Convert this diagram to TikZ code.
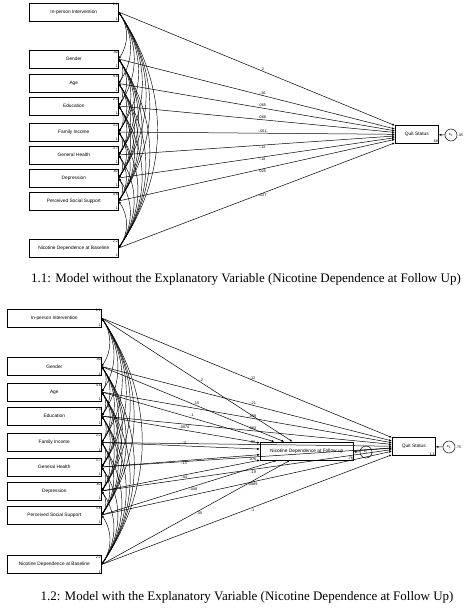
\documentclass[tikz,border=0pt]{standalone}
\usepackage{fontspec}
\newfontfamily\semfont{Liberation Sans}
\newfontfamily\capfont{Liberation Serif}
\usetikzlibrary{arrows.meta,positioning,calc}

\newcommand{\topboxw}{89pt}
\newcommand{\botboxw}{94pt}
\newcommand{\boxh}{18pt}
\newcommand{\toplx}{29}
\newcommand{\botlx}{7}
\newcommand{\labpos}{.52}

\begin{document}
\begin{tikzpicture}[x=1pt,y=-1pt]
\tikzstyle{var}=[draw,line width=.6pt,minimum height=\boxh,inner sep=0pt,anchor=west,font=\semfont\fontsize{4.8}{5}\selectfont]
\tikzstyle{corner}=[inner sep=.6pt,font=\semfont\fontsize{3.6}{3.8}\selectfont]
\tikzstyle{effect}=[line width=.5pt,-{Latex[length=2.8pt,width=2.2pt]}]
\tikzstyle{cov}=[line width=.45pt,{Latex[length=2.6pt,width=2pt]}-{Latex[length=2.6pt,width=2pt]}]
\tikzstyle{coef}=[inner sep=.8pt,font=\semfont\fontsize{3.8}{4}\selectfont]
\tikzstyle{err}=[draw,circle,line width=.5pt,minimum size=12pt,inner sep=0pt,font=\semfont\fontsize{4}{4}\selectfont]
\tikzstyle{captext}=[inner sep=0pt,font=\capfont\fontsize{13}{15}\selectfont]

\useasboundingbox (0,0) rectangle (474,609);

% 1.1: without nicotine dependence at follow up
\node (A1) [var,minimum width=\topboxw] at (\toplx,12) {In-person Intervention};
\node (A2) [var,minimum width=\topboxw] at (\toplx,59) {Gender};
\node (A3) [var,minimum width=\topboxw] at (\toplx,83.5) {Age};
\node (A4) [var,minimum width=\topboxw] at (\toplx,106) {Education};
\node (A5) [var,minimum width=\topboxw] at (\toplx,132) {Family Income};
\node (A6) [var,minimum width=\topboxw] at (\toplx,155) {General Health};
\node (A7) [var,minimum width=\topboxw] at (\toplx,178) {Depression};
\node (A8) [var,minimum width=\topboxw] at (\toplx,201) {Perceived Social Support};
\node (A9) [var,minimum width=\topboxw] at (\toplx,248) {Nicotine Dependence at Baseline};

\foreach \n/\m in {A1/1.1,A2/.90,A3/4.6,A4/2.3,A5/3.2,A6/3.7,A7/.82,A8/3.6,A9/2.2}{
  \node (\n m) [corner,anchor=north east] at (\n.north east) {\m};
  \node (\n v) [corner,anchor=south east] at (\n.south east) {1};
}

\node (AQ) [var,minimum width=43pt] at (395,134.5) {Quit Status};
\node (AQc) [corner,anchor=south east] at (AQ.south east) {.68};
\node (AE) [err] at (451,135) {ε\textsubscript{1}};
\node (AEv) [corner,anchor=west] at (AE.east) {.85};
\draw[effect] (AE) -- (AQ);

\draw[effect] (A1.east) -- node[coef,above,pos=\labpos]{.2} (AQ);
\draw[effect] (A2.east) -- node[coef,above,pos=\labpos]{-.26} (AQ);
\draw[effect] (A3.east) -- node[coef,above,pos=\labpos]{.065} (AQ);
\draw[effect] (A4.east) -- node[coef,above,pos=\labpos]{.068} (AQ);
\draw[effect] (A5.east) -- node[coef,above,pos=\labpos]{-.051} (AQ);
\draw[effect] (A6.east) -- node[coef,below,pos=\labpos]{-.12} (AQ);
\draw[effect] (A7.east) -- node[coef,below,pos=\labpos]{-.18} (AQ);
\draw[effect] (A8.east) -- node[coef,below,pos=\labpos]{.025} (AQ);
\draw[effect] (A9.east) -- node[coef,below,pos=\labpos]{-.027} (AQ);

\foreach \i in {1,...,8}{
  \pgfmathtruncatemacro{\k}{\i+1}
  \foreach \j in {\k,...,9}
    \draw[cov] (A\i.east) to[bend left=34] (A\j.east);
}

\node (cap1) [captext] at (246,279) {1.1: Model without the Explanatory Variable (Nicotine Dependence at Follow Up)};

% 1.2: with nicotine dependence at follow up
\node (B1) [var,minimum width=\botboxw] at (\botlx,318) {In-person Intervention};
\node (B2) [var,minimum width=\botboxw] at (\botlx,366.5) {Gender};
\node (B3) [var,minimum width=\botboxw] at (\botlx,392) {Age};
\node (B4) [var,minimum width=\botboxw] at (\botlx,416) {Education};
\node (B5) [var,minimum width=\botboxw] at (\botlx,442.5) {Family Income};
\node (B6) [var,minimum width=\botboxw] at (\botlx,467) {General Health};
\node (B7) [var,minimum width=\botboxw] at (\botlx,491) {Depression};
\node (B8) [var,minimum width=\botboxw] at (\botlx,515) {Perceived Social Support};
\node (B9) [var,minimum width=\botboxw] at (\botlx,564.5) {Nicotine Dependence at Baseline};

\foreach \n/\m in {B1/1.1,B2/.90,B3/4.6,B4/2.3,B5/3.2,B6/3.7,B7/.82,B8/3.6,B9/2.2}{
  \node (\n m) [corner,anchor=north east] at (\n.north east) {\m};
  \node (\n v) [corner,anchor=south east] at (\n.south east) {1};
}

\node (BN) [var,minimum width=93pt] at (260,451) {Nicotine Dependence at Follow up};
\node (BNc) [corner,anchor=south east] at (BN.south east) {.78};
\node (BQ) [var,minimum width=43pt] at (392,446.5) {Quit Status};
\node (BQc) [corner,anchor=south east] at (BQ.south east) {1.1};
\node (BE1) [err] at (366,452) {ε\textsubscript{1}};
\node (BE2) [err] at (449,447) {ε\textsubscript{2}};
\node (BE2v) [corner,anchor=west] at (BE2.east) {.75};
\draw[effect] (BE1) -- (BN);
\draw[effect] (BE2) -- (BQ);
\draw[effect] (BN.east) -- (BQ);

\draw[effect] (B1.east) -- node[coef,above,pos=\labpos]{-.2} (BN);
\draw[effect] (B2.east) -- node[coef,above,pos=\labpos]{.15} (BN);
\draw[effect] (B3.east) -- node[coef,above,pos=\labpos]{-.1} (BN);
\draw[effect] (B4.east) -- node[coef,above,pos=\labpos]{-.0074} (BN);
\draw[effect] (B5.east) -- node[coef,above,pos=\labpos]{-.11} (BN);
\draw[effect] (B6.east) -- node[coef,below,pos=\labpos]{.13} (BN);
\draw[effect] (B7.east) -- node[coef,below,pos=\labpos]{-.04} (BN);
\draw[effect] (B8.east) -- node[coef,below,pos=\labpos]{-.048} (BN);
\draw[effect] (B9.east) -- node[coef,below,pos=\labpos]{.35} (BN);

\draw[effect] (B1.east) -- node[coef,above,pos=\labpos]{.12} (BQ);
\draw[effect] (B2.east) -- node[coef,above,pos=\labpos]{-.21} (BQ);
\draw[effect] (B3.east) -- node[coef,above,pos=\labpos]{.059} (BQ);
\draw[effect] (B4.east) -- node[coef,above,pos=\labpos]{.063} (BQ);
\draw[effect] (B5.east) -- node[coef,above,pos=\labpos]{.06} (BQ);
\draw[effect] (B6.east) -- node[coef,below,pos=\labpos]{.076} (BQ);
\draw[effect] (B7.east) -- node[coef,below,pos=\labpos]{-.19} (BQ);
\draw[effect] (B8.east) -- node[coef,below,pos=\labpos]{.0089} (BQ);
\draw[effect] (B9.east) -- node[coef,below,pos=\labpos]{.1} (BQ);

\foreach \i in {1,...,8}{
  \pgfmathtruncatemacro{\k}{\i+1}
  \foreach \j in {\k,...,9}
    \draw[cov] (B\i.east) to[bend left=34] (B\j.east);
}

\node (cap2) [captext] at (247,597) {1.2: Model with the Explanatory Variable (Nicotine Dependence at Follow Up)};
\end{tikzpicture}
\end{document}
